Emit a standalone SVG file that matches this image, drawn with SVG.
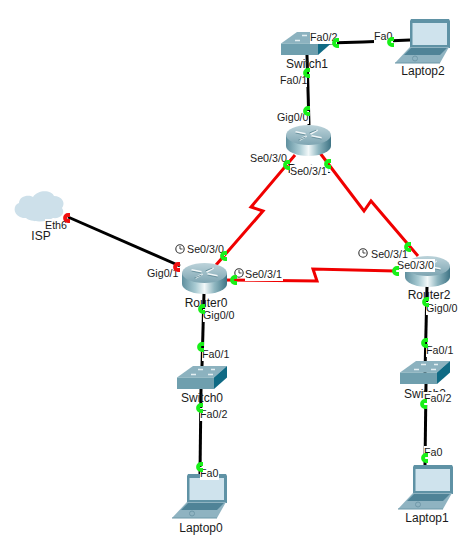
<svg xmlns="http://www.w3.org/2000/svg" xmlns:xlink="http://www.w3.org/1999/xlink" width="469" height="546" viewBox="0 0 469 546">
<style>
text{font-family:"Liberation Sans",Arial,sans-serif;fill:#1a1a1a}
.name{font-size:12px;text-anchor:middle}
.port{font-size:10.7px}
.bg{fill:#fff}
.cable{fill:none;stroke:#000;stroke-width:3}
.serial{fill:none;stroke:#f00000;stroke-width:3;stroke-linejoin:miter}
.up{stroke:#18f018}
.down{stroke:#f01010}
</style>
<defs>
<linearGradient id="side" x1="0" x2="1" y1="0" y2="0">
<stop offset="0" stop-color="#5f8f9e"/><stop offset="0.3" stop-color="#a9cbd3"/><stop offset="0.5" stop-color="#f2f8f9"/><stop offset="0.72" stop-color="#8fb6c0"/><stop offset="1" stop-color="#3f7485"/>
</linearGradient>
<linearGradient id="top" x1="0" x2="0" y1="0" y2="1">
<stop offset="0" stop-color="#bcd3da"/><stop offset="1" stop-color="#7ea5b2"/>
</linearGradient>
<g id="router">
<path d="M-22.500,0V11A22.500,10 0 0 0 22.500,11V0Z" fill="url(#side)"/>
<ellipse rx="22.500" ry="10" fill="url(#top)"/>
<path d="M-13,-3L-3,-1M13,3L3,1M-9,5L-2,1M9,-5L2,-1" stroke="#f2f7f8" stroke-width="1.800" fill="none"/>
<path d="M-13,-2L-3,0M13,4L3,2M-10,5L-3,2M8,-5L1,-2" stroke="#4f7d8c" stroke-width="0.800" fill="none"/>
</g>
<g id="switch">
<path d="M0,0L16,-11.500H50L37,0Z" fill="#8cb2bf"/>
<path d="M0,0H37V11.500H0Z" fill="#6f9fae"/>
<path d="M37,0L50,-11.500V0L37,11.500Z" fill="#0f6a84"/>
<path d="M14,-3H19M31,-3H36M21,-8H26M34,-8H38" stroke="#e4eff2" stroke-width="1.500"/>
</g>
<g id="laptop">
<path d="M1,0H39L40,2V29H0V2Z" fill="#5f92a5"/>
<path d="M2.500,4H37V26H2.500Z" fill="#cfe3ed"/>
<path d="M0,28H39L30,44H-15Z" fill="#8fb3c1"/>
<path d="M1,29H37L30,36H-6Z" fill="#4f8397"/>
<path d="M-15,44H30" stroke="#6c98a8" stroke-width="1"/>
<circle cx="5" cy="39.500" r="2.500" fill="none" stroke="#6f98a8"/>
</g>
<path id="dot" d="M3,-3H1A3,3 0 0 0 1,3H3" fill="none" stroke-width="3.800"/>
<g id="clock">
<circle r="4.200" fill="#fff" stroke="#333" stroke-width="1.100"/>
<path d="M0,-3V0H2.500" fill="none" stroke="#333" stroke-width="0.900"/>
</g>
</defs>
<rect width="469" height="546" fill="#fff"/>
<g id="connectors">
<path class="cable" d="M328,43L363,42L410,40"/>
<path class="cable" d="M307,55L309,125"/>
<path class="cable" d="M68,217L180,266"/>
<path class="cable" d="M204,293L202,366"/>
<path class="cable" d="M201,389L200,474"/>
<path class="cable" d="M427,286L425,373"/>
<path class="cable" d="M426,384L425,465"/>
<path class="serial" d="M295,155L251,207L263,211L216,265"/>
<path class="serial" d="M222,280L317,281L313,269L395,271"/>
<path class="serial" d="M320,153L364,211L371,201L418,256"/>
</g>
<g id="isp"><path d="M20,217C13,214 13,205 19,203C19,196 29,194 33,197C38,189 52,190 54,196C62,196 66,203 62,208C66,214 60,219 53,218C46,223 30,222 26,218C24,218 22,218 20,217Z" fill="#cde0ea"/></g>
<g id="router0"><use href="#router" x="204.500" y="273"/><text class="name" x="206" y="307">Router0</text></g>
<g id="router1"><use href="#router" x="308.500" y="135"/><text class="name" x="309" y="173">Router1</text></g>
<g id="router2"><use href="#router" x="427.500" y="266"/><text class="name" x="429" y="299">Router2</text></g>
<g id="switch0"><use href="#switch" x="177" y="377.500"/><text class="name" x="202" y="402">Switch0</text></g>
<g id="switch1"><use href="#switch" x="281" y="43.500"/><text class="name" x="307" y="68">Switch1</text></g>
<g id="switch2"><use href="#switch" x="400" y="372.500"/><text class="name" x="425" y="398">Switch2</text></g>
<g id="laptop0"><use href="#laptop" x="187" y="474"/><text class="name" x="201" y="532">Laptop0</text></g>
<g id="laptop1"><use href="#laptop" x="413" y="465"/><text class="name" x="427" y="522">Laptop1</text></g>
<g id="laptop2"><use href="#laptop" x="410" y="19"/><text class="name" x="423" y="75">Laptop2</text></g>
<g id="port-labels">
<rect class="bg" x="310" y="31" width="27" height="13"/><text class="port" x="310" y="41">Fa0/2</text>
<rect class="bg" x="374" y="30" width="19" height="13"/><text class="port" x="374" y="40">Fa0</text>
<rect class="bg" x="280" y="74" width="27" height="13"/><text class="port" x="280" y="84">Fa0/1</text>
<rect class="bg" x="277" y="111" width="32" height="13"/><text class="port" x="277" y="121">Gig0/0</text>
<rect class="bg" x="250" y="152" width="38" height="13"/><text class="port" x="250" y="162">Se0/3/0</text>
<rect class="bg" x="290" y="165" width="38" height="13"/><text class="port" x="290" y="175">Se0/3/1</text>
<rect class="bg" x="45" y="219" width="22" height="13"/><text class="port" x="45" y="229">Eth6</text>
<text class="name" x="41" y="240">ISP</text>
<rect class="bg" x="187" y="243" width="38" height="13"/><text class="port" x="187" y="253">Se0/3/0</text>
<rect class="bg" x="147" y="267" width="32" height="13"/><text class="port" x="147" y="277">Gig0/1</text>
<rect class="bg" x="245" y="268" width="38" height="13"/><text class="port" x="245" y="278">Se0/3/1</text>
<rect class="bg" x="203" y="309" width="32" height="13"/><text class="port" x="203" y="319">Gig0/0</text>
<rect class="bg" x="202" y="348" width="27" height="13"/><text class="port" x="202" y="358">Fa0/1</text>
<rect class="bg" x="200" y="408" width="27" height="13"/><text class="port" x="200" y="418">Fa0/2</text>
<rect class="bg" x="200" y="467" width="19" height="13"/><text class="port" x="200" y="477">Fa0</text>
<rect class="bg" x="371" y="248" width="38" height="13"/><text class="port" x="371" y="258">Se0/3/1</text>
<rect class="bg" x="397" y="259" width="38" height="13"/><text class="port" x="397" y="269">Se0/3/0</text>
<rect class="bg" x="426" y="302" width="32" height="13"/><text class="port" x="426" y="312">Gig0/0</text>
<rect class="bg" x="426" y="344" width="27" height="13"/><text class="port" x="426" y="354">Fa0/1</text>
<rect class="bg" x="424" y="392" width="27" height="13"/><text class="port" x="424" y="402">Fa0/2</text>
<rect class="bg" x="424" y="446" width="19" height="13"/><text class="port" x="424" y="456">Fa0</text>
<use href="#clock" x="180" y="249"/><use href="#clock" x="239" y="273"/><use href="#clock" x="363" y="253"/>
</g>
<g id="status-lights">
<use href="#dot" class="down" x="67" y="218"/><use href="#dot" class="down" x="177" y="267"/>
<use href="#dot" class="up" x="336" y="43"/><use href="#dot" class="up" x="391" y="42"/>
<use href="#dot" class="up" x="307" y="73"/><use href="#dot" class="up" x="307" y="111"/>
<use href="#dot" class="up" x="287" y="165"/><use href="#dot" class="up" x="328" y="164"/>
<use href="#dot" class="up" x="224" y="256"/><use href="#dot" class="up" x="234" y="280"/>
<use href="#dot" class="up" x="202" y="309"/><use href="#dot" class="up" x="201" y="347"/>
<use href="#dot" class="up" x="408" y="247"/><use href="#dot" class="up" x="396" y="271"/>
<use href="#dot" class="up" x="426" y="302"/><use href="#dot" class="up" x="425" y="343"/>
<use href="#dot" class="up" x="424" y="404"/><use href="#dot" class="up" x="200" y="408"/>
<use href="#dot" class="up" x="200" y="467"/><use href="#dot" class="up" x="425" y="458"/>
</g>
</svg>
